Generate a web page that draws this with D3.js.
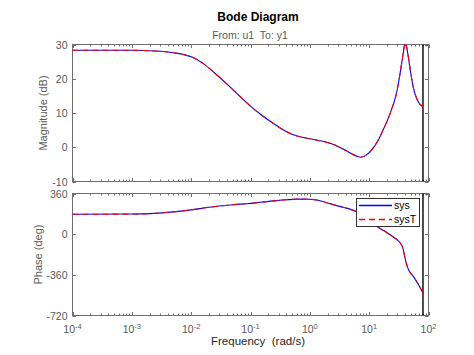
<!DOCTYPE html>
<html><head><meta charset="utf-8">
<script src="https://cdn.jsdelivr.net/npm/d3@7"></script>
<style>body{margin:0;background:#fff}svg{display:block}text{font-family:"Liberation Sans",Arial,sans-serif;white-space:pre}</style>
</head><body><svg id="c" width="474" height="355"></svg>
<script>
// ---- data ----
const xTickExp = [-4, -3, -2, -1, 0, 1, 2];
const magTicks = [-10, 0, 10, 20, 30];
const phaseTicks = [-720, -360, 0, 360];
const nyquistW = 80.7;
// magnitude: log10(w) and dB
const magLogW = [-4, -3, -2.6, -2.3, -2.0, -1.8, -1.6, -1.4, -1.2, -1.0, -0.8, -0.6, -0.4, -0.2, 0, 0.2, 0.4, 0.6, 0.75, 0.85, 0.95, 1.05, 1.15, 1.25, 1.36, 1.47, 1.53, 1.57, 1.61, 1.65, 1.68, 1.75, 1.82, 1.907];
const sysMag = [28.3, 28.3, 28.1, 27.6, 26.4, 24.5, 21.6, 18.5, 15.2, 12.0, 9.2, 6.8, 4.6, 3.2, 2.5, 1.8, 0.8, -0.9, -2.3, -2.9, -2.3, -0.6, 2.0, 5.6, 10.2, 16.5, 22.5, 27.0, 30.6, 27.5, 24.0, 17.0, 13.5, 11.8];
const sysTMag = sysMag.slice();
// phase: log10(w) and deg
const phaseLogW = [-4, -3, -2.7, -2.35, -2.0, -1.7, -1.3, -1.0, -0.8, -0.6, -0.4, -0.2, 0, 0.2, 0.35, 0.5, 0.65, 0.8, 1.0, 1.14, 1.25, 1.36, 1.46, 1.53, 1.57, 1.6, 1.63, 1.66, 1.75, 1.83, 1.907];
const sysPhase = [176, 178, 182, 195, 215, 238, 260, 273, 285, 295, 304, 310, 309, 292, 268, 246, 226, 195, 125, 66, 30, -8, -45, -82, -125, -200, -265, -310, -378, -445, -520];
const sysTPhase = sysPhase.slice();
const seriesNames = ["sys", "sysT"];
const seriesColors = ["#0000ff", "#ff0000"];
const seriesDash = ["none", "6,4"];

// ---- layout ----
const svg = d3.select("#c");
const L = 72.5, R = 428.5;
const mag = {top: 44.5, bottom: 181.5};
const ph = {top: 193.5, bottom: 315.5};
const axisCol = "#6e6e6e", textCol = "#5a5a5a";

const x = d3.scaleLog().domain([1e-4, 1e2]).range([L, R]);
const yMag = d3.scaleLinear().domain([-10, 30]).range([mag.bottom, mag.top]);
const yPh = d3.scaleLinear().domain([-720, 360]).range([ph.bottom, ph.top]);

svg.append("text").attr("x", 258).attr("y", 20.5).attr("text-anchor", "middle")
  .attr("font-size", 12).attr("font-weight", "bold").attr("fill", "#000").text("Bode Diagram");
svg.append("text").attr("x", 250).attr("y", 38.5).attr("text-anchor", "middle")
  .attr("font-size", 10.5).attr("fill", textCol).text("From: u1  To: y1");

const defs = svg.append("defs");
function panel(box, y, ticks, id, label, labelX) {
  defs.append("clipPath").attr("id", id).append("rect")
    .attr("x", L).attr("y", box.top).attr("width", R - L).attr("height", box.bottom - box.top);
  const g = svg.append("g");
  const minor = [];
  for (let e = -4; e < 2; e++) for (let k = 2; k <= 9; k++) minor.push(k * Math.pow(10, e));
  minor.forEach(v => {
    const px = Math.round(x(v)) + 0.5;
    g.append("line").attr("x1", px).attr("x2", px).attr("y1", box.bottom).attr("y2", box.bottom - 2).attr("stroke", axisCol);
    g.append("line").attr("x1", px).attr("x2", px).attr("y1", box.top).attr("y2", box.top + 2).attr("stroke", axisCol);
  });
  xTickExp.forEach(e => {
    const px = Math.round(x(Math.pow(10, e))) + 0.5;
    g.append("line").attr("x1", px).attr("x2", px).attr("y1", box.bottom).attr("y2", box.bottom - 3.5).attr("stroke", axisCol);
    g.append("line").attr("x1", px).attr("x2", px).attr("y1", box.top).attr("y2", box.top + 3.5).attr("stroke", axisCol);
  });
  ticks.forEach(t => {
    const py = Math.round(y(t)) + 0.5;
    g.append("line").attr("x1", L).attr("x2", L + 3.5).attr("y1", py).attr("y2", py).attr("stroke", axisCol);
    g.append("line").attr("x1", R).attr("x2", R - 3.5).attr("y1", py).attr("y2", py).attr("stroke", axisCol);
    g.append("text").attr("x", L - 5).attr("y", py + 3.8).attr("text-anchor", "end")
      .attr("font-size", 10.5).attr("fill", textCol).text(t);
  });
  g.append("rect").attr("x", L).attr("y", box.top).attr("width", R - L).attr("height", box.bottom - box.top)
    .attr("fill", "none").attr("stroke", axisCol).attr("stroke-width", 1);
  const cy = (box.top + box.bottom) / 2;
  g.append("text").attr("transform", `translate(${labelX},${cy}) rotate(-90)`).attr("text-anchor", "middle")
    .attr("font-size", 11).attr("fill", textCol).text(label);
  const nx = x(nyquistW);
  g.append("line").attr("x1", nx).attr("x2", nx).attr("y1", box.top).attr("y2", box.bottom)
    .attr("stroke", "#000").attr("stroke-width", 1.4);
}
panel(mag, yMag, magTicks, "cm", "Magnitude (dB)", 47);
panel(ph, yPh, phaseTicks, "cp", "Phase (deg)", 42);

function drawLine(logw, vals, y, clip, i) {
  const line = d3.line().x((d, k) => x(Math.pow(10, logw[k]))).y(d => y(d)).curve(d3.curveMonotoneX);
  svg.append("path").datum(vals).attr("d", line).attr("fill", "none")
    .style("stroke", seriesColors[i]).style("stroke-width", "1.1px").style("stroke-dasharray", seriesDash[i])
    .attr("clip-path", `url(#${clip})`);
}
drawLine(magLogW, sysMag, yMag, "cm", 0);
drawLine(magLogW, sysTMag, yMag, "cm", 1);
drawLine(phaseLogW, sysPhase, yPh, "cp", 0);
drawLine(phaseLogW, sysTPhase, yPh, "cp", 1);

xTickExp.forEach(e => {
  const t = svg.append("text").attr("x", x(Math.pow(10, e))).attr("y", 333).attr("text-anchor", "middle")
    .attr("font-size", 10.5).attr("fill", textCol);
  t.append("tspan").text("10");
  t.append("tspan").attr("dy", -4.5).attr("font-size", 7.5).text(String(e));
});
svg.append("text").attr("x", 258).attr("y", 344.5).attr("text-anchor", "middle")
  .attr("font-size", 11.5).attr("fill", "#262626").text("Frequency  (rad/s)");

// legend
const lg = svg.append("g");
lg.append("rect").attr("x", 356.5).attr("y", 198.5).attr("width", 63).attr("height", 28)
  .attr("fill", "#fff").attr("stroke", "#333").attr("stroke-width", 1);
seriesNames.forEach((n, i) => {
  const yy = 205.5 + i * 14;
  lg.append("path").attr("d", d3.line()([[359, yy], [392, yy]]))
    .attr("fill", "none")
    .style("stroke", seriesColors[i]).style("stroke-width", "1.3px").style("stroke-dasharray", seriesDash[i]);
  lg.append("text").attr("x", 394).attr("y", yy + 3.8).attr("font-size", 10.5).attr("fill", "#000").text(n);
});
</script></body></html>
